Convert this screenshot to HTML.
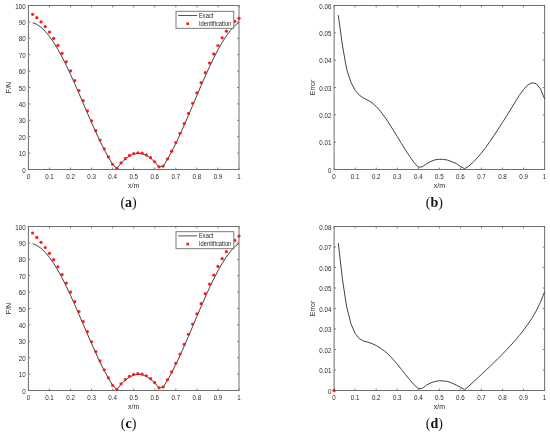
<!DOCTYPE html>
<html><head><meta charset="utf-8"><style>
html,body{margin:0;padding:0;background:#fff;}
svg{display:block;}
</style></head><body>
<svg width="550" height="435" viewBox="0 0 550 435" font-family='"Liberation Sans", Arial, sans-serif' font-size="6.9" fill="#2a2a2a"><rect width="550" height="435" fill="#fff"/><rect x="28.4" y="5.5" width="210.60" height="164.00" fill="none" stroke="#6e6e6e" stroke-width="1"/><path d="M28.40 169.5v-1.9M28.40 5.5v1.9M49.46 169.5v-1.9M49.46 5.5v1.9M70.52 169.5v-1.9M70.52 5.5v1.9M91.58 169.5v-1.9M91.58 5.5v1.9M112.64 169.5v-1.9M112.64 5.5v1.9M133.70 169.5v-1.9M133.70 5.5v1.9M154.76 169.5v-1.9M154.76 5.5v1.9M175.82 169.5v-1.9M175.82 5.5v1.9M196.88 169.5v-1.9M196.88 5.5v1.9M217.94 169.5v-1.9M217.94 5.5v1.9M239.00 169.5v-1.9M239.00 5.5v1.9M28.4 169.50h1.9M239.0 169.50h-1.9M28.4 153.10h1.9M239.0 153.10h-1.9M28.4 136.70h1.9M239.0 136.70h-1.9M28.4 120.30h1.9M239.0 120.30h-1.9M28.4 103.90h1.9M239.0 103.90h-1.9M28.4 87.50h1.9M239.0 87.50h-1.9M28.4 71.10h1.9M239.0 71.10h-1.9M28.4 54.70h1.9M239.0 54.70h-1.9M28.4 38.30h1.9M239.0 38.30h-1.9M28.4 21.90h1.9M239.0 21.90h-1.9M28.4 5.50h1.9M239.0 5.50h-1.9" stroke="#6e6e6e" stroke-width="0.9" fill="none"/><text transform="translate(28.40 179.10) scale(0.9 1)" text-anchor="middle">0</text><text transform="translate(49.46 179.10) scale(0.9 1)" text-anchor="middle">0.1</text><text transform="translate(70.52 179.10) scale(0.9 1)" text-anchor="middle">0.2</text><text transform="translate(91.58 179.10) scale(0.9 1)" text-anchor="middle">0.3</text><text transform="translate(112.64 179.10) scale(0.9 1)" text-anchor="middle">0.4</text><text transform="translate(133.70 179.10) scale(0.9 1)" text-anchor="middle">0.5</text><text transform="translate(154.76 179.10) scale(0.9 1)" text-anchor="middle">0.6</text><text transform="translate(175.82 179.10) scale(0.9 1)" text-anchor="middle">0.7</text><text transform="translate(196.88 179.10) scale(0.9 1)" text-anchor="middle">0.8</text><text transform="translate(217.94 179.10) scale(0.9 1)" text-anchor="middle">0.9</text><text transform="translate(239.00 179.10) scale(0.9 1)" text-anchor="middle">1</text><text transform="translate(25.70 172.60) scale(0.9 1)" text-anchor="end">0</text><text transform="translate(25.70 156.20) scale(0.9 1)" text-anchor="end">10</text><text transform="translate(25.70 139.80) scale(0.9 1)" text-anchor="end">20</text><text transform="translate(25.70 123.40) scale(0.9 1)" text-anchor="end">30</text><text transform="translate(25.70 107.00) scale(0.9 1)" text-anchor="end">40</text><text transform="translate(25.70 90.60) scale(0.9 1)" text-anchor="end">50</text><text transform="translate(25.70 74.20) scale(0.9 1)" text-anchor="end">60</text><text transform="translate(25.70 57.80) scale(0.9 1)" text-anchor="end">70</text><text transform="translate(25.70 41.40) scale(0.9 1)" text-anchor="end">80</text><text transform="translate(25.70 25.00) scale(0.9 1)" text-anchor="end">90</text><text transform="translate(25.70 8.60) scale(0.9 1)" text-anchor="end">100</text><text x="133.70" y="188.10" text-anchor="middle" font-size="7">x/m</text><text transform="translate(10.60 87.50) rotate(-90)" text-anchor="middle" font-size="7">F/N</text><path d="M32.61 22.63 L36.82 24.39 L41.04 27.30 L45.25 31.32 L49.46 36.38 L53.67 42.41 L57.88 49.33 L62.10 57.03 L66.31 65.41 L70.52 74.35 L74.73 83.70 L78.94 93.35 L83.16 103.15 L87.37 112.96 L91.58 122.64 L95.79 132.05 L100.00 141.05 L104.22 149.52 L108.43 157.33 L112.64 164.37 L116.85 168.46 L121.06 163.25 L125.28 159.07 L129.49 156.00 L133.70 154.06 L137.91 153.30 L142.12 153.71 L146.34 155.31 L150.55 158.05 L154.76 161.92 L158.97 166.85 L163.18 166.23 L167.40 159.40 L171.61 151.75 L175.82 143.40 L180.03 134.46 L184.24 125.07 L188.46 115.34 L192.67 105.43 L196.88 95.47 L201.09 85.61 L205.30 75.98 L209.52 66.71 L213.73 57.95 L217.94 49.82 L222.15 42.42 L226.36 35.87 L230.58 30.26 L234.79 25.67 L239.00 22.16" fill="none" stroke="#383838" stroke-width="0.95" stroke-linejoin="round"/><g fill="#ff1a1a"><circle cx="32.61" cy="14.30" r="1.6"/><circle cx="36.82" cy="17.72" r="1.6"/><circle cx="41.04" cy="21.90" r="1.6"/><circle cx="45.25" cy="26.61" r="1.6"/><circle cx="49.46" cy="32.10" r="1.6"/><circle cx="53.67" cy="38.40" r="1.6"/><circle cx="57.88" cy="45.47" r="1.6"/><circle cx="62.10" cy="53.29" r="1.6"/><circle cx="66.31" cy="61.81" r="1.6"/><circle cx="70.52" cy="70.94" r="1.6"/><circle cx="74.73" cy="80.55" r="1.6"/><circle cx="78.94" cy="90.50" r="1.6"/><circle cx="83.16" cy="100.64" r="1.6"/><circle cx="87.37" cy="110.81" r="1.6"/><circle cx="91.58" cy="120.86" r="1.6"/><circle cx="95.79" cy="130.65" r="1.6"/><circle cx="100.00" cy="140.01" r="1.6"/><circle cx="104.22" cy="148.83" r="1.6"/><circle cx="108.43" cy="156.95" r="1.6"/><circle cx="112.64" cy="164.25" r="1.6"/><circle cx="116.85" cy="168.30" r="1.6"/><circle cx="121.06" cy="162.93" r="1.6"/><circle cx="125.28" cy="158.64" r="1.6"/><circle cx="129.49" cy="155.47" r="1.6"/><circle cx="133.70" cy="153.51" r="1.6"/><circle cx="137.91" cy="152.75" r="1.6"/><circle cx="142.12" cy="153.21" r="1.6"/><circle cx="146.34" cy="154.89" r="1.6"/><circle cx="150.55" cy="157.72" r="1.6"/><circle cx="154.76" cy="161.76" r="1.6"/><circle cx="158.97" cy="166.81" r="1.6"/><circle cx="163.18" cy="166.04" r="1.6"/><circle cx="167.40" cy="159.01" r="1.6"/><circle cx="171.61" cy="151.13" r="1.6"/><circle cx="175.82" cy="142.51" r="1.6"/><circle cx="180.03" cy="133.27" r="1.6"/><circle cx="184.24" cy="123.56" r="1.6"/><circle cx="188.46" cy="113.50" r="1.6"/><circle cx="192.67" cy="103.25" r="1.6"/><circle cx="196.88" cy="92.93" r="1.6"/><circle cx="201.09" cy="82.71" r="1.6"/><circle cx="205.30" cy="72.71" r="1.6"/><circle cx="209.52" cy="63.07" r="1.6"/><circle cx="213.73" cy="53.95" r="1.6"/><circle cx="217.94" cy="45.50" r="1.6"/><circle cx="222.15" cy="37.86" r="1.6"/><circle cx="226.36" cy="31.19" r="1.6"/><circle cx="230.58" cy="25.63" r="1.6"/><circle cx="234.79" cy="21.31" r="1.6"/><circle cx="239.00" cy="18.35" r="1.6"/></g><rect x="176.0" y="11.3" width="57.8" height="17.0" fill="#fff" stroke="#6e6e6e" stroke-width="0.9"/><path d="M178.2 15.5H197.1" stroke="#404040" stroke-width="0.9"/><rect x="186.4" y="22.4" width="2.6" height="2.6" fill="#ff1010"/><text transform="translate(199 18.00) scale(0.9 1)" font-size="6.4" fill="#1e1e1e">Exact</text><text transform="translate(199 26.00) scale(0.9 1)" font-size="6.4" fill="#1e1e1e">Identification</text><rect x="334.1" y="5.5" width="210.50" height="164.00" fill="none" stroke="#6e6e6e" stroke-width="1"/><path d="M334.10 169.5v-1.9M334.10 5.5v1.9M355.15 169.5v-1.9M355.15 5.5v1.9M376.20 169.5v-1.9M376.20 5.5v1.9M397.25 169.5v-1.9M397.25 5.5v1.9M418.30 169.5v-1.9M418.30 5.5v1.9M439.35 169.5v-1.9M439.35 5.5v1.9M460.40 169.5v-1.9M460.40 5.5v1.9M481.45 169.5v-1.9M481.45 5.5v1.9M502.50 169.5v-1.9M502.50 5.5v1.9M523.55 169.5v-1.9M523.55 5.5v1.9M544.60 169.5v-1.9M544.60 5.5v1.9M334.1 169.50h1.9M544.6 169.50h-1.9M334.1 142.17h1.9M544.6 142.17h-1.9M334.1 114.83h1.9M544.6 114.83h-1.9M334.1 87.50h1.9M544.6 87.50h-1.9M334.1 60.17h1.9M544.6 60.17h-1.9M334.1 32.83h1.9M544.6 32.83h-1.9M334.1 5.50h1.9M544.6 5.50h-1.9" stroke="#6e6e6e" stroke-width="0.9" fill="none"/><text transform="translate(334.10 179.10) scale(0.9 1)" text-anchor="middle">0</text><text transform="translate(355.15 179.10) scale(0.9 1)" text-anchor="middle">0.1</text><text transform="translate(376.20 179.10) scale(0.9 1)" text-anchor="middle">0.2</text><text transform="translate(397.25 179.10) scale(0.9 1)" text-anchor="middle">0.3</text><text transform="translate(418.30 179.10) scale(0.9 1)" text-anchor="middle">0.4</text><text transform="translate(439.35 179.10) scale(0.9 1)" text-anchor="middle">0.5</text><text transform="translate(460.40 179.10) scale(0.9 1)" text-anchor="middle">0.6</text><text transform="translate(481.45 179.10) scale(0.9 1)" text-anchor="middle">0.7</text><text transform="translate(502.50 179.10) scale(0.9 1)" text-anchor="middle">0.8</text><text transform="translate(523.55 179.10) scale(0.9 1)" text-anchor="middle">0.9</text><text transform="translate(544.60 179.10) scale(0.9 1)" text-anchor="middle">1</text><text transform="translate(331.40 172.60) scale(0.9 1)" text-anchor="end">0</text><text transform="translate(331.40 145.27) scale(0.9 1)" text-anchor="end">0.01</text><text transform="translate(331.40 117.93) scale(0.9 1)" text-anchor="end">0.02</text><text transform="translate(331.40 90.60) scale(0.9 1)" text-anchor="end">0.03</text><text transform="translate(331.40 63.27) scale(0.9 1)" text-anchor="end">0.04</text><text transform="translate(331.40 35.93) scale(0.9 1)" text-anchor="end">0.05</text><text transform="translate(331.40 8.60) scale(0.9 1)" text-anchor="end">0.06</text><text x="439.35" y="188.10" text-anchor="middle" font-size="7">x/m</text><text transform="translate(315.30 87.50) rotate(-90)" text-anchor="middle" font-size="7">Error</text><path d="M338.31 15.20 L342.52 46.00 L346.73 69.48 L350.94 82.33 L355.15 90.35 L359.36 95.19 L363.57 98.06 L367.78 100.17 L371.99 102.72 L376.20 106.43 L380.41 111.19 L384.62 116.79 L388.83 123.03 L393.04 129.71 L397.25 136.62 L401.46 143.56 L405.67 150.32 L409.88 156.70 L414.09 162.50 L418.30 167.30 L422.51 166.65 L426.72 163.64 L430.93 161.45 L435.14 159.81 L439.35 159.28 L443.56 159.38 L447.77 160.15 L451.98 161.80 L456.19 163.39 L460.40 166.47 L464.61 168.74 L468.82 166.11 L473.03 162.36 L477.24 157.94 L481.45 152.95 L485.66 147.48 L489.87 141.61 L494.08 135.42 L498.29 129.01 L502.50 122.44 L506.71 115.76 L510.92 108.96 L515.13 102.07 L519.34 95.39 L523.55 89.51 L527.76 85.05 L531.97 82.78 L536.18 83.68 L540.39 88.72 L544.60 98.88" fill="none" stroke="#383838" stroke-width="0.95" stroke-linejoin="round"/><rect x="28.4" y="226.5" width="210.60" height="164.00" fill="none" stroke="#6e6e6e" stroke-width="1"/><path d="M28.40 390.5v-1.9M28.40 226.5v1.9M49.46 390.5v-1.9M49.46 226.5v1.9M70.52 390.5v-1.9M70.52 226.5v1.9M91.58 390.5v-1.9M91.58 226.5v1.9M112.64 390.5v-1.9M112.64 226.5v1.9M133.70 390.5v-1.9M133.70 226.5v1.9M154.76 390.5v-1.9M154.76 226.5v1.9M175.82 390.5v-1.9M175.82 226.5v1.9M196.88 390.5v-1.9M196.88 226.5v1.9M217.94 390.5v-1.9M217.94 226.5v1.9M239.00 390.5v-1.9M239.00 226.5v1.9M28.4 390.50h1.9M239.0 390.50h-1.9M28.4 374.10h1.9M239.0 374.10h-1.9M28.4 357.70h1.9M239.0 357.70h-1.9M28.4 341.30h1.9M239.0 341.30h-1.9M28.4 324.90h1.9M239.0 324.90h-1.9M28.4 308.50h1.9M239.0 308.50h-1.9M28.4 292.10h1.9M239.0 292.10h-1.9M28.4 275.70h1.9M239.0 275.70h-1.9M28.4 259.30h1.9M239.0 259.30h-1.9M28.4 242.90h1.9M239.0 242.90h-1.9M28.4 226.50h1.9M239.0 226.50h-1.9" stroke="#6e6e6e" stroke-width="0.9" fill="none"/><text transform="translate(28.40 400.10) scale(0.9 1)" text-anchor="middle">0</text><text transform="translate(49.46 400.10) scale(0.9 1)" text-anchor="middle">0.1</text><text transform="translate(70.52 400.10) scale(0.9 1)" text-anchor="middle">0.2</text><text transform="translate(91.58 400.10) scale(0.9 1)" text-anchor="middle">0.3</text><text transform="translate(112.64 400.10) scale(0.9 1)" text-anchor="middle">0.4</text><text transform="translate(133.70 400.10) scale(0.9 1)" text-anchor="middle">0.5</text><text transform="translate(154.76 400.10) scale(0.9 1)" text-anchor="middle">0.6</text><text transform="translate(175.82 400.10) scale(0.9 1)" text-anchor="middle">0.7</text><text transform="translate(196.88 400.10) scale(0.9 1)" text-anchor="middle">0.8</text><text transform="translate(217.94 400.10) scale(0.9 1)" text-anchor="middle">0.9</text><text transform="translate(239.00 400.10) scale(0.9 1)" text-anchor="middle">1</text><text transform="translate(25.70 393.60) scale(0.9 1)" text-anchor="end">0</text><text transform="translate(25.70 377.20) scale(0.9 1)" text-anchor="end">10</text><text transform="translate(25.70 360.80) scale(0.9 1)" text-anchor="end">20</text><text transform="translate(25.70 344.40) scale(0.9 1)" text-anchor="end">30</text><text transform="translate(25.70 328.00) scale(0.9 1)" text-anchor="end">40</text><text transform="translate(25.70 311.60) scale(0.9 1)" text-anchor="end">50</text><text transform="translate(25.70 295.20) scale(0.9 1)" text-anchor="end">60</text><text transform="translate(25.70 278.80) scale(0.9 1)" text-anchor="end">70</text><text transform="translate(25.70 262.40) scale(0.9 1)" text-anchor="end">80</text><text transform="translate(25.70 246.00) scale(0.9 1)" text-anchor="end">90</text><text transform="translate(25.70 229.60) scale(0.9 1)" text-anchor="end">100</text><text x="133.70" y="409.10" text-anchor="middle" font-size="7">x/m</text><text transform="translate(10.60 308.50) rotate(-90)" text-anchor="middle" font-size="7">F/N</text><path d="M32.61 243.63 L36.82 245.39 L41.04 248.30 L45.25 252.32 L49.46 257.38 L53.67 263.41 L57.88 270.33 L62.10 278.03 L66.31 286.41 L70.52 295.35 L74.73 304.70 L78.94 314.35 L83.16 324.15 L87.37 333.96 L91.58 343.64 L95.79 353.05 L100.00 362.05 L104.22 370.52 L108.43 378.33 L112.64 385.37 L116.85 389.46 L121.06 384.25 L125.28 380.07 L129.49 377.00 L133.70 375.06 L137.91 374.30 L142.12 374.71 L146.34 376.31 L150.55 379.05 L154.76 382.92 L158.97 387.85 L163.18 387.23 L167.40 380.40 L171.61 372.75 L175.82 364.40 L180.03 355.46 L184.24 346.07 L188.46 336.34 L192.67 326.43 L196.88 316.47 L201.09 306.61 L205.30 296.98 L209.52 287.71 L213.73 278.95 L217.94 270.82 L222.15 263.42 L226.36 256.87 L230.58 251.26 L234.79 246.67 L239.00 243.16" fill="none" stroke="#383838" stroke-width="0.95" stroke-linejoin="round"/><g fill="#ff1a1a"><circle cx="32.61" cy="233.02" r="1.6"/><circle cx="36.82" cy="237.43" r="1.6"/><circle cx="41.04" cy="242.30" r="1.6"/><circle cx="45.25" cy="247.51" r="1.6"/><circle cx="49.46" cy="253.28" r="1.6"/><circle cx="53.67" cy="259.68" r="1.6"/><circle cx="57.88" cy="266.76" r="1.6"/><circle cx="62.10" cy="274.55" r="1.6"/><circle cx="66.31" cy="283.04" r="1.6"/><circle cx="70.52" cy="292.11" r="1.6"/><circle cx="74.73" cy="301.65" r="1.6"/><circle cx="78.94" cy="311.52" r="1.6"/><circle cx="83.16" cy="321.58" r="1.6"/><circle cx="87.37" cy="331.71" r="1.6"/><circle cx="91.58" cy="341.74" r="1.6"/><circle cx="95.79" cy="351.53" r="1.6"/><circle cx="100.00" cy="360.92" r="1.6"/><circle cx="104.22" cy="369.76" r="1.6"/><circle cx="108.43" cy="377.92" r="1.6"/><circle cx="112.64" cy="385.24" r="1.6"/><circle cx="116.85" cy="389.30" r="1.6"/><circle cx="121.06" cy="383.85" r="1.6"/><circle cx="125.28" cy="379.52" r="1.6"/><circle cx="129.49" cy="376.35" r="1.6"/><circle cx="133.70" cy="374.36" r="1.6"/><circle cx="137.91" cy="373.61" r="1.6"/><circle cx="142.12" cy="374.06" r="1.6"/><circle cx="146.34" cy="375.77" r="1.6"/><circle cx="150.55" cy="378.66" r="1.6"/><circle cx="154.76" cy="382.68" r="1.6"/><circle cx="158.97" cy="387.80" r="1.6"/><circle cx="163.18" cy="386.91" r="1.6"/><circle cx="167.40" cy="379.80" r="1.6"/><circle cx="171.61" cy="371.88" r="1.6"/><circle cx="175.82" cy="363.24" r="1.6"/><circle cx="180.03" cy="354.02" r="1.6"/><circle cx="184.24" cy="344.34" r="1.6"/><circle cx="188.46" cy="334.32" r="1.6"/><circle cx="192.67" cy="324.11" r="1.6"/><circle cx="196.88" cy="313.85" r="1.6"/><circle cx="201.09" cy="303.67" r="1.6"/><circle cx="205.30" cy="293.71" r="1.6"/><circle cx="209.52" cy="284.11" r="1.6"/><circle cx="213.73" cy="274.99" r="1.6"/><circle cx="217.94" cy="266.47" r="1.6"/><circle cx="222.15" cy="258.67" r="1.6"/><circle cx="226.36" cy="251.67" r="1.6"/><circle cx="230.58" cy="245.54" r="1.6"/><circle cx="234.79" cy="240.33" r="1.6"/><circle cx="239.00" cy="236.06" r="1.6"/></g><rect x="176.0" y="231.70000000000002" width="57.8" height="17.0" fill="#fff" stroke="#6e6e6e" stroke-width="0.9"/><path d="M178.2 235.9H197.1" stroke="#404040" stroke-width="0.9"/><rect x="186.4" y="242.8" width="2.6" height="2.6" fill="#ff1010"/><text transform="translate(199 238.40) scale(0.9 1)" font-size="6.4" fill="#1e1e1e">Exact</text><text transform="translate(199 246.40) scale(0.9 1)" font-size="6.4" fill="#1e1e1e">Identification</text><rect x="334.1" y="226.5" width="210.50" height="164.00" fill="none" stroke="#6e6e6e" stroke-width="1"/><path d="M334.10 390.5v-1.9M334.10 226.5v1.9M355.15 390.5v-1.9M355.15 226.5v1.9M376.20 390.5v-1.9M376.20 226.5v1.9M397.25 390.5v-1.9M397.25 226.5v1.9M418.30 390.5v-1.9M418.30 226.5v1.9M439.35 390.5v-1.9M439.35 226.5v1.9M460.40 390.5v-1.9M460.40 226.5v1.9M481.45 390.5v-1.9M481.45 226.5v1.9M502.50 390.5v-1.9M502.50 226.5v1.9M523.55 390.5v-1.9M523.55 226.5v1.9M544.60 390.5v-1.9M544.60 226.5v1.9M334.1 390.50h1.9M544.6 390.50h-1.9M334.1 370.00h1.9M544.6 370.00h-1.9M334.1 349.50h1.9M544.6 349.50h-1.9M334.1 329.00h1.9M544.6 329.00h-1.9M334.1 308.50h1.9M544.6 308.50h-1.9M334.1 288.00h1.9M544.6 288.00h-1.9M334.1 267.50h1.9M544.6 267.50h-1.9M334.1 247.00h1.9M544.6 247.00h-1.9M334.1 226.50h1.9M544.6 226.50h-1.9" stroke="#6e6e6e" stroke-width="0.9" fill="none"/><text transform="translate(334.10 400.10) scale(0.9 1)" text-anchor="middle">0</text><text transform="translate(355.15 400.10) scale(0.9 1)" text-anchor="middle">0.1</text><text transform="translate(376.20 400.10) scale(0.9 1)" text-anchor="middle">0.2</text><text transform="translate(397.25 400.10) scale(0.9 1)" text-anchor="middle">0.3</text><text transform="translate(418.30 400.10) scale(0.9 1)" text-anchor="middle">0.4</text><text transform="translate(439.35 400.10) scale(0.9 1)" text-anchor="middle">0.5</text><text transform="translate(460.40 400.10) scale(0.9 1)" text-anchor="middle">0.6</text><text transform="translate(481.45 400.10) scale(0.9 1)" text-anchor="middle">0.7</text><text transform="translate(502.50 400.10) scale(0.9 1)" text-anchor="middle">0.8</text><text transform="translate(523.55 400.10) scale(0.9 1)" text-anchor="middle">0.9</text><text transform="translate(544.60 400.10) scale(0.9 1)" text-anchor="middle">1</text><text transform="translate(331.40 393.60) scale(0.9 1)" text-anchor="end">0</text><text transform="translate(331.40 373.10) scale(0.9 1)" text-anchor="end">0.01</text><text transform="translate(331.40 352.60) scale(0.9 1)" text-anchor="end">0.02</text><text transform="translate(331.40 332.10) scale(0.9 1)" text-anchor="end">0.03</text><text transform="translate(331.40 311.60) scale(0.9 1)" text-anchor="end">0.04</text><text transform="translate(331.40 291.10) scale(0.9 1)" text-anchor="end">0.05</text><text transform="translate(331.40 270.60) scale(0.9 1)" text-anchor="end">0.06</text><text transform="translate(331.40 250.10) scale(0.9 1)" text-anchor="end">0.07</text><text transform="translate(331.40 229.60) scale(0.9 1)" text-anchor="end">0.08</text><text x="439.35" y="409.10" text-anchor="middle" font-size="7">x/m</text><text transform="translate(315.30 308.50) rotate(-90)" text-anchor="middle" font-size="7">Error</text><path d="M338.31 243.10 L342.52 279.95 L346.73 307.16 L350.94 323.70 L355.15 333.56 L359.36 338.71 L363.57 340.97 L367.78 342.14 L371.99 343.58 L376.20 345.54 L380.41 348.05 L384.62 351.15 L388.83 354.88 L393.04 359.27 L397.25 364.19 L401.46 369.43 L405.67 374.75 L409.88 379.94 L414.09 384.78 L418.30 388.67 L422.51 388.26 L426.72 384.94 L430.93 382.80 L435.14 381.47 L439.35 380.73 L443.56 380.97 L447.77 381.50 L451.98 383.12 L456.19 385.03 L460.40 387.20 L464.61 389.79 L468.82 386.15 L473.03 382.25 L477.24 378.35 L481.45 374.44 L485.66 370.49 L489.87 366.50 L494.08 362.43 L498.29 358.28 L502.50 354.03 L506.71 349.66 L510.92 345.14 L515.13 340.43 L519.34 335.46 L523.55 330.14 L527.76 324.41 L531.97 318.15 L536.18 310.96 L540.39 302.37 L544.60 291.91" fill="none" stroke="#383838" stroke-width="0.95" stroke-linejoin="round"/><circle cx="334.1" cy="390.5" r="1.7" fill="#ff1a1a"/><text transform="translate(128.60 206.80) scale(0.9 1)" font-family="'Liberation Serif', serif" font-size="15.6" fill="#111" text-anchor="middle">(<tspan font-weight="bold">a</tspan>)</text><text transform="translate(434.40 206.80) scale(0.9 1)" font-family="'Liberation Serif', serif" font-size="15.6" fill="#111" text-anchor="middle">(<tspan font-weight="bold">b</tspan>)</text><text transform="translate(128.60 427.80) scale(0.9 1)" font-family="'Liberation Serif', serif" font-size="15.6" fill="#111" text-anchor="middle">(<tspan font-weight="bold">c</tspan>)</text><text transform="translate(434.40 427.80) scale(0.9 1)" font-family="'Liberation Serif', serif" font-size="15.6" fill="#111" text-anchor="middle">(<tspan font-weight="bold">d</tspan>)</text></svg>
</body></html>
